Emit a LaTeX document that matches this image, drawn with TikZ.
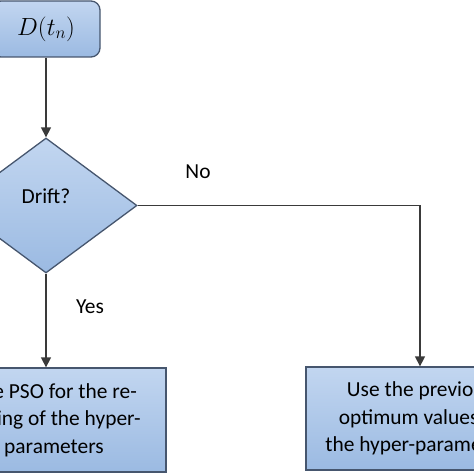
\documentclass[tikz,border=0pt]{standalone}
\usepackage{fontspec}
\setmainfont{Carlito}
\usetikzlibrary{shapes.geometric,arrows.meta}
\definecolor{boxtop}{HTML}{C2D6F0}
\definecolor{boxbot}{HTML}{9BBAE2}
\definecolor{boxline}{HTML}{46566E}
\definecolor{flowline}{HTML}{3A3A3A}

\begin{document}
\begin{tikzpicture}[x=1bp,y=-1bp,
  blk/.style={draw=boxline,line width=1.3bp,top color=boxtop,bottom color=boxbot,
    inner sep=0pt,align=center,font=\fontsize{21.5}{27.5}\selectfont},
  flow/.style={draw=flowline,line width=1.4bp},
  lbl/.style={font=\fontsize{21.5}{24}\selectfont},
  >={Triangle[length=10bp,width=10bp]}]
\useasboundingbox (0,0) rectangle (474,474);
\clip (0,0) rectangle (474,474);
% blocks
\node[blk,rounded corners=9bp,minimum width=108bp,minimum height=56bp] (dt) at (46,29) {\fontsize{25}{27}\selectfont$D(t_n)$};
\node[blk,diamond,minimum width=182bp,minimum height=135bp] (drift) at (46,205.5) {\raisebox{2bp}[0pt][0pt]{Drift?}};
\node[blk,minimum width=224bp,minimum height=104bp] (pso) at (54,420) {Use PSO for the re-\\tuning of the hyper-\\parameters};
\node[blk,minimum width=228bp,minimum height=103bp] (prev) at (420,418.5) {Use the previous\\optimum values of\\the hyper-parameters};
% labels
\node[lbl] (no) at (198,172) {No};
\node[lbl] (yes) at (90,307) {Yes};
% connectors
\draw[flow,->] (dt) -- (drift);
\draw[flow,->] (drift.south) -- (drift.south |- pso.north);
\draw[flow,->] (drift.east) -| (prev.north);
\end{tikzpicture}
\end{document}
